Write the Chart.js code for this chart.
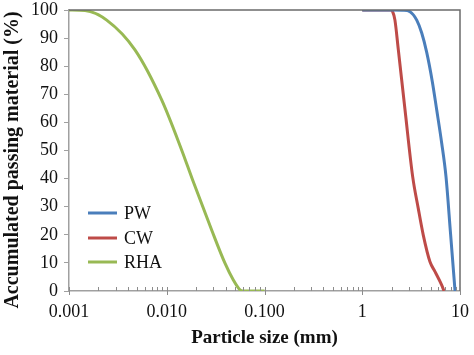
<!DOCTYPE html>
<html><head><meta charset="utf-8">
<script src="https://cdn.jsdelivr.net/npm/chart.js@4/dist/chart.umd.min.js"></script>
<style>html,body{margin:0;padding:0;background:#fff}#w{width:474px;height:355px}</style>
</head><body><div id="w"><canvas id="c" width="474" height="355"></canvas></div>
<script>
const seriesNames = ['PW', 'CW', 'RHA'];
const seriesColors = ['#4A7EBB', '#BE4B48', '#98B954'];
const pwSize =    [1, 2.0, 2.61, 3.08, 3.61, 4.06, 4.56, 5.21, 5.78, 6.5, 7.19, 8.0, 8.9];
const pwPassing = [100, 100, 99.9, 99.4, 96.4, 91.8, 85, 74.5, 64.4, 52.6, 40.7, 20.5, 0];
const cwSize =    [1, 1.95, 2.05, 2.16, 2.34, 2.74, 3.28, 3.74, 4.21, 4.93, 5.55, 6.5, 6.86];
const cwPassing = [100, 100, 99.3, 96.4, 85.8, 64.4, 40.7, 29.4, 19.9, 10.4, 6.9, 2.1, 0];
const rhaSize =    [0.001, 0.00146, 0.00243, 0.00473, 0.00887, 0.0142, 0.0184, 0.0288, 0.0394, 0.048, 0.0561, 0.06, 0.1];
const rhaPassing = [100, 99.8, 96.4, 85.8, 68, 50.2, 39.5, 21.7, 9.9, 3.9, 0.4, 0, 0];
const xTickValues = [0.001, 0.01, 0.1, 1, 10];
const xTickLabels = ['0.001', '0.010', '0.100', '1', '10'];
const yTicks = [0,10,20,30,40,50,60,70,80,90,100];
const xTitle = 'Particle size (mm)';
const yTitle = 'Accumulated passing material (%)';

const zip = (xs, ys) => xs.map((x, i) => ({x, y: ys[i]}));
const sizes = [pwSize, cwSize, rhaSize];
const passing = [pwPassing, cwPassing, rhaPassing];

const serif = "'Liberation Serif','Times New Roman',serif";

const decor = {
  id: 'decor',
  afterDraw(chart) {
    const ctx = chart.ctx, a = chart.chartArea, xs = chart.scales.x;
    ctx.save();
    ctx.strokeStyle = '#6b6b6b'; ctx.lineWidth = 1.5;
    ctx.beginPath();
    ctx.moveTo(a.left, a.top); ctx.lineTo(a.right, a.top); ctx.lineTo(a.right, a.bottom);
    ctx.stroke();
    ctx.strokeStyle = '#8c8c8c'; ctx.lineWidth = 1;
    for (let d = -3; d < 1; d++) {
      for (let m = 1; m <= 9; m++) {
        const v = m * Math.pow(10, d);
        const px = Math.round(xs.getPixelForValue(v)) + 0.5;
        ctx.beginPath();
        if (m === 1) { ctx.moveTo(px, a.bottom - 4); ctx.lineTo(px, a.bottom + 4); }
        else { ctx.moveTo(px, a.bottom - 4); ctx.lineTo(px, a.bottom); }
        ctx.stroke();
      }
    }
    const p10 = Math.round(xs.getPixelForValue(10)) + 0.5;
    ctx.beginPath(); ctx.moveTo(p10, a.bottom - 4); ctx.lineTo(p10, a.bottom + 4); ctx.stroke();
    // legend
    const lx = 88, ly = [213, 238, 262];
    ctx.font = "18px " + serif; ctx.fillStyle = '#111'; ctx.textBaseline = 'middle';
    chart.data.datasets.forEach((ds, i) => {
      ctx.strokeStyle = ds.borderColor; ctx.lineWidth = 3;
      ctx.beginPath(); ctx.moveTo(lx, ly[i]); ctx.lineTo(lx + 29, ly[i]); ctx.stroke();
      ctx.fillText(ds.label, lx + 36, ly[i] + 1);
    });
    // y title
    ctx.translate(13, 160); ctx.rotate(-Math.PI / 2);
    ctx.font = "bold 20px " + serif; ctx.textAlign = 'center'; ctx.textBaseline = 'middle';
    ctx.fillText(yTitle, 0, 0);
    ctx.restore();
  }
};

new Chart(document.getElementById('c'), {
  type: 'line',
  data: {
    datasets: seriesNames.map((n, i) => ({
      label: n,
      data: zip(sizes[i], passing[i]),
      borderColor: seriesColors[i],
      backgroundColor: seriesColors[i],
      borderWidth: 3,
      pointRadius: 0,
      cubicInterpolationMode: 'monotone',
      fill: false
    }))
  },
  options: {
    responsive: false,
    animation: false,
    devicePixelRatio: 1,
    layout: { padding: { top: 10, right: 14, left: 0, bottom: 0 } },
    plugins: { legend: { display: false }, tooltip: { enabled: false } },
    scales: {
      x: {
        type: 'logarithmic', min: 0.001, max: 10,
        afterBuildTicks: s => { s.ticks = xTickValues.map(v => ({value: v})); },
        afterFit: s => { s.height = 64; s.paddingLeft = 0; s.paddingRight = 0; },
        ticks: { autoSkip: false, maxRotation: 0, padding: 10, color: '#111',
          font: { family: serif, size: 18 },
          callback: (v, i) => xTickLabels[i] },
        grid: { display: false, drawTicks: false },
        border: { display: true, color: '#a0a0a0', width: 1.5 },
        title: { display: true, text: xTitle, color: '#111',
          font: { family: serif, size: 19, weight: 'bold' }, padding: { top: 4, bottom: 6 } }
      },
      y: {
        min: 0, max: 100,
        afterBuildTicks: s => { s.ticks = yTicks.map(v => ({value: v})); },
        afterFit: s => { s.width = 69; s.paddingTop = 0; s.paddingBottom = 0; },
        ticks: { padding: 6, color: '#111', font: { family: serif, size: 18 } },
        grid: { drawOnChartArea: false, drawTicks: true, tickLength: 5, color: '#a0a0a0' },
        border: { display: true, color: '#a0a0a0', width: 1.5 },
        title: { display: false }
      }
    }
  },
  plugins: [decor]
});
</script>
</body></html>
